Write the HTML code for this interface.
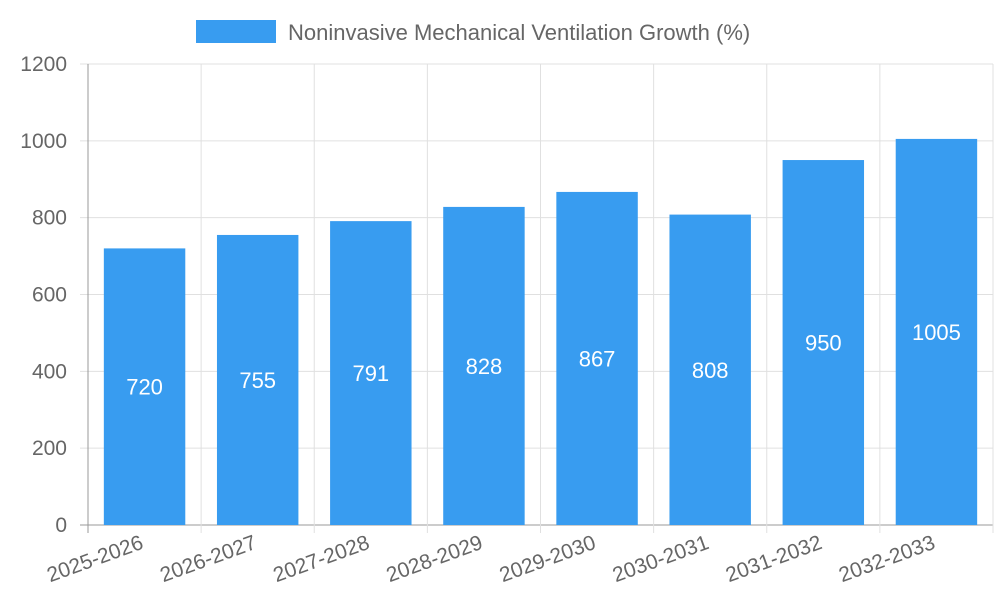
<!DOCTYPE html>
<html><head><meta charset="utf-8"><style>
html,body{margin:0;padding:0;background:#fff;}
svg{display:block;font-family:"Liberation Sans",sans-serif;}
</style></head><body>
<svg id="chart" width="1000" height="600">
<g>
<rect x="196" y="20" width="80" height="23" fill="#389cf0"></rect>
<text x="288" y="40" font-size="22" fill="#666">Noninvasive Mechanical Ventilation Growth (%)</text>
</g>
<g id="grid"></g>
<g id="bars"></g>
<g id="axes"></g>
</svg>
<script>
const categories = ["2025-2026","2026-2027","2027-2028","2028-2029","2029-2030","2030-2031","2031-2032","2032-2033"];
const values = [720,755,791,828,867,808,950,1005];
const yTicks = [0,200,400,600,800,1000,1200];

const NS="http://www.w3.org/2000/svg";
const L=88,R=993,T=64,B=525,yMax=1200;
const band=(R-L)/categories.length;
const y=v=>B-(v/yMax)*(B-T);
const xb=i=>L+i*band;
function mk(tag,attrs,parent,text){const e=document.createElementNS(NS,tag);for(const k in attrs)e.setAttribute(k,attrs[k]);if(text!==undefined)e.textContent=text;parent.appendChild(e);return e;}
const grid=document.getElementById('grid'),bars=document.getElementById('bars'),axes=document.getElementById('axes');
yTicks.forEach(t=>{
  const g=mk('line',{x1:80,x2:R,y1:y(t),y2:y(t),stroke:t===0?'#999':'#e0e0e0','stroke-width':1},grid);
  
  
  const lb=mk('text',{x:67,y:y(t)+7,'text-anchor':'end','font-size':21,fill:'#666'},axes,String(t));
  
  
});
for(let i=0;i<=categories.length;i++){
  const g=mk('line',{x1:xb(i),x2:xb(i),y1:T,y2:B+8,stroke:i===0?'#999':'#e0e0e0','stroke-width':1},grid);
  
  
}
const bw=band*0.72;
categories.forEach((c,i)=>{
  const cx=xb(i)+band/2;
  const r=mk('rect',{x:cx-bw/2,y:y(values[i]),width:bw,height:B-y(values[i]),fill:'#389cf0'},bars);
  
  
  const v=mk('text',{x:cx,y:(y(values[i])+B)/2+8,'text-anchor':'middle','font-size':22,fill:'#fff'},bars,String(values[i]));
  
  
  const tl=mk('text',{x:cx,y:548,'text-anchor':'end','font-size':21,fill:'#666',transform:`rotate(-20 ${cx} 548)`},axes,c);
  
  
});
</script>
</body></html>
